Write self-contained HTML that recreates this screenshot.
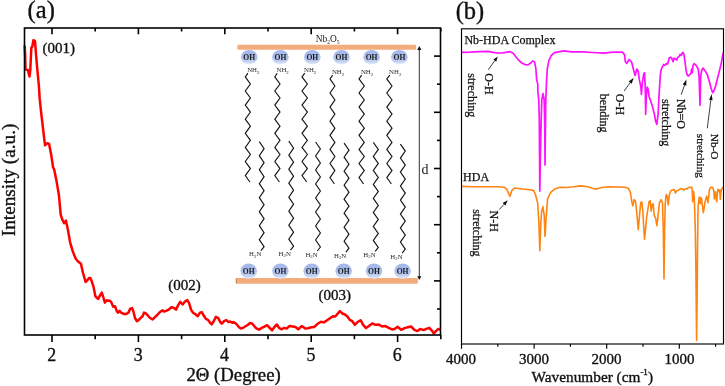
<!DOCTYPE html>
<html><head><meta charset="utf-8"><style>
html,body{margin:0;padding:0;background:#fff;}
svg{display:block;}
svg{will-change:transform;}
.tk{stroke:#111;stroke-width:0.35px;}
.tm{stroke:#111;stroke-width:0.25px;}
</style></head><body>
<svg width="725" height="386" viewBox="0 0 725 386">
<defs>
<linearGradient id="ohg" x1="0" y1="0" x2="0" y2="1">
<stop offset="0" stop-color="#A3B7E9"/>
<stop offset="0.5" stop-color="#ABBEEC"/>
<stop offset="0.8" stop-color="#C3D1F2"/>
<stop offset="1" stop-color="#E6ECFA"/>
</linearGradient>
</defs>
<rect width="725" height="386" fill="#fff"/>
<!-- panel labels -->
<text class="tk" x="27.6" y="18.4" style="font-family:'Liberation Serif',serif;font-size:24.5px" fill="#111">(a)</text>
<text class="tk" x="455.7" y="18.6" style="font-family:'Liberation Serif',serif;font-size:24.5px" fill="#111">(b)</text>
<!-- panel a -->
<g>
<rect x="237.4" y="44.7" width="178.8" height="5.0" rx="1.2" fill="#F2AC7D"/>
<rect x="235.8" y="278.0" width="182" height="5.7" rx="1.2" fill="#F2AC7D"/>
<rect x="235.8" y="278.3" width="1.2" height="5.2" fill="#C98D62"/>
<text x="315.7" y="41.9" style="font-family:'Liberation Serif',serif;font-size:9.4px" fill="#222">Nb<tspan font-size="5.6" dy="1.8">2</tspan><tspan dy="-1.8">O</tspan><tspan font-size="5.6" dy="1.8">5</tspan></text>
<ellipse cx="249.2" cy="57.2" rx="8.3" ry="7.3" fill="url(#ohg)"/>
<text x="249.2" y="60.3" text-anchor="middle" style="font-family:'Liberation Serif',serif;font-size:7.6px;font-weight:bold" fill="#1a1a1a">OH</text>
<ellipse cx="280.4" cy="57.2" rx="8.3" ry="7.3" fill="url(#ohg)"/>
<text x="280.4" y="60.3" text-anchor="middle" style="font-family:'Liberation Serif',serif;font-size:7.6px;font-weight:bold" fill="#1a1a1a">OH</text>
<ellipse cx="312.3" cy="57.2" rx="8.3" ry="7.3" fill="url(#ohg)"/>
<text x="312.3" y="60.3" text-anchor="middle" style="font-family:'Liberation Serif',serif;font-size:7.6px;font-weight:bold" fill="#1a1a1a">OH</text>
<ellipse cx="341.5" cy="57.2" rx="8.3" ry="7.3" fill="url(#ohg)"/>
<text x="341.5" y="60.3" text-anchor="middle" style="font-family:'Liberation Serif',serif;font-size:7.6px;font-weight:bold" fill="#1a1a1a">OH</text>
<ellipse cx="371.6" cy="57.2" rx="8.3" ry="7.3" fill="url(#ohg)"/>
<text x="371.6" y="60.3" text-anchor="middle" style="font-family:'Liberation Serif',serif;font-size:7.6px;font-weight:bold" fill="#1a1a1a">OH</text>
<ellipse cx="399.4" cy="57.2" rx="8.3" ry="7.3" fill="url(#ohg)"/>
<text x="399.4" y="60.3" text-anchor="middle" style="font-family:'Liberation Serif',serif;font-size:7.6px;font-weight:bold" fill="#1a1a1a">OH</text>
<ellipse cx="248.7" cy="271.1" rx="8.3" ry="7.6" fill="url(#ohg)"/>
<text x="248.7" y="274.0" text-anchor="middle" style="font-family:'Liberation Serif',serif;font-size:7.6px;font-weight:bold" fill="#1a1a1a">OH</text>
<ellipse cx="280.4" cy="271.1" rx="8.3" ry="7.6" fill="url(#ohg)"/>
<text x="280.4" y="274.0" text-anchor="middle" style="font-family:'Liberation Serif',serif;font-size:7.6px;font-weight:bold" fill="#1a1a1a">OH</text>
<ellipse cx="311.7" cy="271.1" rx="8.3" ry="7.6" fill="url(#ohg)"/>
<text x="311.7" y="274.0" text-anchor="middle" style="font-family:'Liberation Serif',serif;font-size:7.6px;font-weight:bold" fill="#1a1a1a">OH</text>
<ellipse cx="343.7" cy="271.1" rx="8.3" ry="7.6" fill="url(#ohg)"/>
<text x="343.7" y="274.0" text-anchor="middle" style="font-family:'Liberation Serif',serif;font-size:7.6px;font-weight:bold" fill="#1a1a1a">OH</text>
<ellipse cx="374.0" cy="271.1" rx="8.3" ry="7.6" fill="url(#ohg)"/>
<text x="374.0" y="274.0" text-anchor="middle" style="font-family:'Liberation Serif',serif;font-size:7.6px;font-weight:bold" fill="#1a1a1a">OH</text>
<ellipse cx="402.6" cy="271.1" rx="8.3" ry="7.6" fill="url(#ohg)"/>
<text x="402.6" y="274.0" text-anchor="middle" style="font-family:'Liberation Serif',serif;font-size:7.6px;font-weight:bold" fill="#1a1a1a">OH</text>
<text x="247.2" y="72.1" style="font-family:'Liberation Serif',serif;font-size:6.8px" fill="#2a2a2a">NH<tspan font-size="4.8" dy="1.5">2</tspan></text>
<text x="276.5" y="72.1" style="font-family:'Liberation Serif',serif;font-size:6.8px" fill="#2a2a2a">NH<tspan font-size="4.8" dy="1.5">2</tspan></text>
<text x="304.0" y="72.1" style="font-family:'Liberation Serif',serif;font-size:6.8px" fill="#2a2a2a">NH<tspan font-size="4.8" dy="1.5">2</tspan></text>
<text x="331.9" y="74.1" style="font-family:'Liberation Serif',serif;font-size:6.8px" fill="#2a2a2a">NH<tspan font-size="4.8" dy="1.5">2</tspan></text>
<text x="360.9" y="74.1" style="font-family:'Liberation Serif',serif;font-size:6.8px" fill="#2a2a2a">NH<tspan font-size="4.8" dy="1.5">2</tspan></text>
<text x="389.1" y="74.1" style="font-family:'Liberation Serif',serif;font-size:6.8px" fill="#2a2a2a">NH<tspan font-size="4.8" dy="1.5">2</tspan></text>
<text x="249.1" y="256.2" style="font-family:'Liberation Serif',serif;font-size:6.8px" fill="#2a2a2a">H<tspan font-size="4.8" dy="1.5">2</tspan><tspan dy="-1.5">N</tspan></text>
<text x="278.6" y="255.7" style="font-family:'Liberation Serif',serif;font-size:6.8px" fill="#2a2a2a">H<tspan font-size="4.8" dy="1.5">2</tspan><tspan dy="-1.5">N</tspan></text>
<text x="305.4" y="256.5" style="font-family:'Liberation Serif',serif;font-size:6.8px" fill="#2a2a2a">H<tspan font-size="4.8" dy="1.5">2</tspan><tspan dy="-1.5">N</tspan></text>
<text x="334.0" y="257.7" style="font-family:'Liberation Serif',serif;font-size:6.8px" fill="#2a2a2a">H<tspan font-size="4.8" dy="1.5">2</tspan><tspan dy="-1.5">N</tspan></text>
<text x="363.3" y="256.9" style="font-family:'Liberation Serif',serif;font-size:6.8px" fill="#2a2a2a">H<tspan font-size="4.8" dy="1.5">2</tspan><tspan dy="-1.5">N</tspan></text>
<text x="390.3" y="258.6" style="font-family:'Liberation Serif',serif;font-size:6.8px" fill="#2a2a2a">H<tspan font-size="4.8" dy="1.5">2</tspan><tspan dy="-1.5">N</tspan></text>
<polyline points="247.9,73.2 245.3,76.9 250.4,84.0 245.3,91.0 250.4,98.0 245.3,105.1 250.4,112.1 245.3,119.2 250.4,126.2 245.3,133.3 250.4,140.3 245.3,147.4 250.4,154.5 245.3,161.5 250.4,168.6 245.3,175.6 249.9,182.0" fill="none" stroke="#151515" stroke-width="1.15" stroke-linejoin="miter" stroke-miterlimit="10"/>
<polyline points="277.2,73.2 274.8,76.9 280.0,84.0 274.8,91.0 280.0,98.0 274.8,105.1 280.0,112.1 274.8,119.2 280.0,126.2 274.8,133.3 280.0,140.3 274.8,147.4 280.0,154.5 274.8,161.5 280.0,168.6 274.8,175.6 279.4,182.0" fill="none" stroke="#151515" stroke-width="1.15" stroke-linejoin="miter" stroke-miterlimit="10"/>
<polyline points="304.7,73.2 302.0,76.9 307.4,84.0 302.0,91.0 307.4,98.0 302.0,105.1 307.4,112.1 302.0,119.2 307.4,126.2 302.0,133.3 307.4,140.3 302.0,147.4 307.4,154.5 302.0,161.5 307.4,168.6 302.0,175.6 306.7,182.0" fill="none" stroke="#151515" stroke-width="1.15" stroke-linejoin="miter" stroke-miterlimit="10"/>
<polyline points="332.6,75.2 330.0,78.9 334.9,86.0 330.0,93.0 334.9,100.0 330.0,107.1 334.9,114.1 330.0,121.2 334.9,128.2 330.0,135.3 334.9,142.4 330.0,149.4 334.9,156.5 330.0,163.5 334.9,170.6 330.0,177.6 334.4,184.0" fill="none" stroke="#151515" stroke-width="1.15" stroke-linejoin="miter" stroke-miterlimit="10"/>
<polyline points="361.6,75.2 359.0,78.9 364.3,86.0 359.0,93.0 364.3,100.0 359.0,107.1 364.3,114.1 359.0,121.2 364.3,128.2 359.0,135.3 364.3,142.4 359.0,149.4 364.3,156.5 359.0,163.5 364.3,170.6 359.0,177.6 363.6,184.0" fill="none" stroke="#151515" stroke-width="1.15" stroke-linejoin="miter" stroke-miterlimit="10"/>
<polyline points="389.8,75.2 386.8,78.9 392.0,86.0 386.8,93.0 392.0,100.0 386.8,107.1 392.0,114.1 386.8,121.2 392.0,128.2 386.8,135.3 392.0,142.4 386.8,149.4 392.0,156.5 386.8,163.5 392.0,170.6 386.8,177.6 391.4,184.0" fill="none" stroke="#151515" stroke-width="1.15" stroke-linejoin="miter" stroke-miterlimit="10"/>
<polyline points="259.3,141.7 264.1,148.7 259.3,155.7 264.1,162.7 259.3,169.7 264.1,176.7 259.3,183.7 264.1,190.7 259.3,197.7 264.1,204.7 259.3,211.7 264.1,218.7 259.3,225.7 264.1,232.7 259.3,239.7 264.1,246.7 261.0,250.7" fill="none" stroke="#151515" stroke-width="1.15" stroke-linejoin="miter" stroke-miterlimit="10"/>
<polyline points="288.8,141.2 293.6,148.2 288.8,155.2 293.6,162.2 288.8,169.2 293.6,176.2 288.8,183.2 293.6,190.2 288.8,197.2 293.6,204.2 288.8,211.2 293.6,218.2 288.8,225.2 293.6,232.2 288.8,239.2 293.6,246.2 290.5,250.2" fill="none" stroke="#151515" stroke-width="1.15" stroke-linejoin="miter" stroke-miterlimit="10"/>
<polyline points="315.6,142.0 320.4,149.0 315.6,156.0 320.4,163.0 315.6,170.0 320.4,177.0 315.6,184.0 320.4,191.0 315.6,198.0 320.4,205.0 315.6,212.0 320.4,219.0 315.6,226.0 320.4,233.0 315.6,240.0 320.4,247.0 317.3,251.0" fill="none" stroke="#151515" stroke-width="1.15" stroke-linejoin="miter" stroke-miterlimit="10"/>
<polyline points="344.1,143.2 349.0,150.2 344.1,157.2 349.0,164.2 344.1,171.2 349.0,178.2 344.1,185.2 349.0,192.2 344.1,199.2 349.0,206.2 344.1,213.2 349.0,220.2 344.1,227.2 349.0,234.2 344.1,241.2 349.0,248.2 345.9,252.2" fill="none" stroke="#151515" stroke-width="1.15" stroke-linejoin="miter" stroke-miterlimit="10"/>
<polyline points="373.3,142.4 378.3,149.4 373.3,156.4 378.3,163.4 373.3,170.4 378.3,177.4 373.3,184.4 378.3,191.4 373.3,198.4 378.3,205.4 373.3,212.4 378.3,219.4 373.3,226.4 378.3,233.4 373.3,240.4 378.3,247.4 375.2,251.4" fill="none" stroke="#151515" stroke-width="1.15" stroke-linejoin="miter" stroke-miterlimit="10"/>
<polyline points="400.4,144.1 405.3,151.1 400.4,158.1 405.3,165.1 400.4,172.1 405.3,179.1 400.4,186.1 405.3,193.1 400.4,200.1 405.3,207.1 400.4,214.1 405.3,221.1 400.4,228.1 405.3,235.1 400.4,242.1 405.3,249.1 402.2,253.1" fill="none" stroke="#151515" stroke-width="1.15" stroke-linejoin="miter" stroke-miterlimit="10"/>
<line x1="419.3" y1="49" x2="419.3" y2="277" stroke="#333" stroke-width="1"/>
<path d="M417.2,50 L419.3,46.1 L421.4,50 Z" fill="#111"/>
<path d="M417.2,276.2 L419.3,280 L421.4,276.2 Z" fill="#111"/>
<text x="421.4" y="173.8" style="font-family:'Liberation Serif',serif;font-size:14px" fill="#1a1a1a">d</text>
</g>
<polyline points="24.6,45.5 25.2,55.0 25.5,69.3 27.8,70.0 29.5,76.5 30.3,70.0 31.3,48.0 32.3,46.5 33.4,40.2 35.0,40.8 36.0,54.4 37.5,71.3 38.8,85.0 39.7,98.7 41.2,113.0 42.8,126.6 45.0,145.3 47.0,143.3 49.0,143.7 51.2,154.6 53.0,167.0 54.3,170.1 56.8,182.6 58.9,195.0 60.7,214.6 62.5,220.0 64.1,223.2 65.9,220.6 68.0,230.2 70.0,241.8 72.6,250.9 75.7,258.7 77.8,261.2 80.9,263.8 83.0,272.9 85.6,282.0 87.4,280.2 89.0,278.1 90.5,278.1 92.2,282.7 93.6,287.2 95.4,296.3 98.2,299.0 100.0,295.4 101.8,292.6 103.0,296.3 104.9,302.6 106.7,300.3 108.1,300.8 110.0,300.8 111.4,302.6 113.2,306.8 115.0,306.2 116.8,311.1 118.1,312.6 119.6,310.8 121.2,312.6 123.6,313.9 126.3,314.0 128.4,312.6 130.3,308.6 132.1,308.1 133.5,311.7 135.0,318.0 136.8,321.1 139.0,319.8 140.8,317.7 142.6,316.2 144.0,312.6 145.9,313.5 147.7,315.3 149.8,317.7 152.6,319.5 154.9,317.1 157.3,315.0 159.7,312.2 162.5,310.4 164.3,311.6 166.6,310.7 168.7,309.6 171.3,307.3 173.6,307.7 176.0,309.6 178.3,304.9 180.2,301.8 182.6,304.5 184.8,301.8 187.3,300.0 189.2,303.4 191.0,309.6 193.0,312.7 195.4,314.3 197.7,316.3 200.0,312.7 201.9,312.2 203.9,315.8 205.9,318.9 208.1,320.0 210.1,322.8 211.7,324.3 213.7,321.2 215.9,316.9 218.4,318.4 220.2,322.0 221.8,323.6 224.1,321.2 226.4,320.0 228.3,322.0 230.3,321.6 232.6,322.8 233.4,322.0 236.2,323.8 239.0,327.2 241.0,328.6 243.9,327.3 248.0,324.8 250.0,323.0 252.0,323.4 254.0,325.8 256.0,328.1 259.0,329.7 261.7,327.9 264.5,326.6 267.0,325.2 269.3,327.5 272.1,330.3 274.4,327.0 276.9,324.5 279.0,327.9 281.3,329.3 284.1,327.9 286.6,328.6 289.3,326.1 292.8,326.6 295.5,327.0 298.3,329.3 301.7,326.1 305.2,328.6 307.9,328.3 311.4,327.2 314.1,327.0 317.6,323.8 321.0,321.7 323.8,322.4 326.6,320.6 330.0,318.2 332.9,316.2 335.3,316.5 337.4,314.0 339.9,311.2 342.4,313.5 344.9,314.5 347.4,316.5 349.8,319.8 352.3,321.2 354.8,324.8 357.3,322.3 360.6,320.2 363.1,324.8 366.1,328.1 368.9,326.1 372.2,323.5 375.5,324.8 378.8,324.5 382.1,326.5 385.4,326.1 388.7,327.8 392.0,329.4 394.5,328.9 397.5,326.8 401.2,329.8 404.5,328.1 407.8,327.3 411.1,326.5 414.4,329.8 417.4,331.1 420.2,328.9 423.5,330.1 426.3,328.9 429.3,327.8 431.8,330.6 433.9,333.5 436.3,330.6 438.4,328.9 440.0,330.1" fill="none" stroke="#FF0000" stroke-width="2.5" stroke-linejoin="round"/>
<rect x="24.5" y="28" width="416" height="307" fill="none" stroke="#000" stroke-width="1.6"/>
<g stroke="#000" stroke-width="1.6">
<line x1="52.0" y1="28" x2="52.0" y2="34.3"/>
<line x1="52.0" y1="335" x2="52.0" y2="342.0"/>
<line x1="95.2" y1="28" x2="95.2" y2="31.5"/>
<line x1="95.2" y1="335" x2="95.2" y2="339.2"/>
<line x1="138.4" y1="28" x2="138.4" y2="34.3"/>
<line x1="138.4" y1="335" x2="138.4" y2="342.0"/>
<line x1="181.6" y1="28" x2="181.6" y2="31.5"/>
<line x1="181.6" y1="335" x2="181.6" y2="339.2"/>
<line x1="224.8" y1="28" x2="224.8" y2="34.3"/>
<line x1="224.8" y1="335" x2="224.8" y2="342.0"/>
<line x1="268.0" y1="28" x2="268.0" y2="31.5"/>
<line x1="268.0" y1="335" x2="268.0" y2="339.2"/>
<line x1="311.2" y1="28" x2="311.2" y2="34.3"/>
<line x1="311.2" y1="335" x2="311.2" y2="342.0"/>
<line x1="354.4" y1="28" x2="354.4" y2="31.5"/>
<line x1="354.4" y1="335" x2="354.4" y2="339.2"/>
<line x1="397.6" y1="28" x2="397.6" y2="34.3"/>
<line x1="397.6" y1="335" x2="397.6" y2="342.0"/>
<line x1="440.8" y1="28" x2="440.8" y2="31.5"/>
<line x1="440.8" y1="335" x2="440.8" y2="339.2"/>
<line x1="440.5" y1="56.1" x2="434.0" y2="56.1"/>
<line x1="440.5" y1="84.2" x2="437.0" y2="84.2"/>
<line x1="440.5" y1="112.3" x2="434.0" y2="112.3"/>
<line x1="440.5" y1="140.4" x2="437.0" y2="140.4"/>
<line x1="440.5" y1="168.5" x2="434.0" y2="168.5"/>
<line x1="440.5" y1="196.6" x2="437.0" y2="196.6"/>
<line x1="440.5" y1="224.7" x2="434.0" y2="224.7"/>
<line x1="440.5" y1="252.8" x2="437.0" y2="252.8"/>
<line x1="440.5" y1="280.9" x2="434.0" y2="280.9"/>
<line x1="440.5" y1="309.0" x2="437.0" y2="309.0"/>
</g>
<g class="tk" style="font-family:'Liberation Serif',serif;font-size:19.5px" fill="#111" text-anchor="middle">
<text transform="translate(51.80,361) scale(0.92,1)">2</text><text transform="translate(138.15,361) scale(0.92,1)">3</text><text transform="translate(224.50,361) scale(0.92,1)">4</text><text transform="translate(310.85,361) scale(0.92,1)">5</text><text transform="translate(397.20,361) scale(0.92,1)">6</text>
</g>
<text class="tk" x="233.6" y="380.9" text-anchor="middle" style="font-family:'Liberation Serif',serif;font-size:18.8px" fill="#111">2Θ (Degree)</text>
<text class="tk" transform="translate(14.7,179.9) rotate(-90)" text-anchor="middle" textLength="112.5" lengthAdjust="spacingAndGlyphs" style="font-family:'Liberation Serif',serif;font-size:18.8px" fill="#111">Intensity (a.u.)</text>
<g class="tk" style="font-family:'Liberation Serif',serif;font-size:15px" fill="#111">
<text x="42.6" y="52.6">(001)</text>
<text x="168.2" y="290">(002)</text>
<text x="318.5" y="300.3">(003)</text>
</g>
<!-- panel b -->
<polyline points="462.0,186.4 473.0,186.7 485.9,186.7 498.9,186.7 504.0,187.2 506.6,189.0 508.7,193.7 510.0,196.3 511.8,190.6 514.4,188.0 522.2,189.0 530.0,189.8 533.8,190.6 535.6,195.0 536.9,200.2 537.7,202.7 539.0,224.8 539.8,250.7 540.8,224.8 541.6,211.8 542.9,206.6 544.2,215.7 545.0,236.4 546.0,219.6 547.6,198.9 550.7,192.4 554.6,189.0 560.0,187.2 566.7,187.5 573.7,186.8 580.6,185.9 587.6,186.8 592.3,188.2 596.5,189.1 601.6,187.5 608.6,186.8 617.9,187.0 624.9,187.3 628.3,188.3 630.4,192.4 632.0,202.8 632.9,205.9 634.1,199.7 635.4,200.7 636.6,211.1 638.3,229.8 639.7,213.2 640.7,202.8 641.8,201.8 642.8,211.1 643.9,229.8 644.5,239.1 645.5,229.8 646.6,217.3 647.6,211.1 649.0,201.8 650.3,200.7 651.1,211.1 652.2,204.9 653.2,203.9 654.2,215.3 655.7,218.4 656.9,225.6 658.0,216.3 659.4,202.8 661.1,199.7 662.5,202.8 663.3,230.0 664.0,279.0 664.6,230.0 665.2,205.0 665.9,196.3 666.5,194.5 667.3,196.3 668.2,204.9 668.8,199.9 669.5,193.6 670.4,191.8 671.3,190.4 672.7,190.0 673.6,189.5 674.5,190.0 675.4,193.1 676.3,191.3 678.1,190.4 679.9,189.1 681.3,188.6 682.7,189.2 683.6,190.0 684.9,189.1 686.3,188.6 687.2,188.9 688.1,187.7 689.5,187.3 690.8,187.4 691.7,187.3 692.2,189.1 692.6,201.8 692.9,191.8 693.5,191.3 694.0,194.5 694.5,203.6 695.3,230.0 695.9,270.0 696.6,340.5 697.1,300.0 697.6,240.0 698.1,207.2 699.2,197.2 699.9,197.2 700.3,203.6 700.8,198.1 701.5,198.1 702.2,204.5 702.6,207.2 703.3,212.6 704.0,209.0 704.9,202.7 705.8,199.0 706.7,196.3 707.3,198.1 707.9,202.7 708.5,198.1 709.4,190.0 710.3,187.7 711.7,187.1 713.0,188.2 713.9,191.8 714.4,199.0 714.9,192.7 715.5,191.8 716.2,198.1 716.7,201.8 717.3,193.6 718.0,189.5 718.8,190.0 719.4,191.8 719.8,190.0 720.3,199.5 720.9,191.8 721.6,189.1 722.6,187.7 723.2,187.1" fill="none" stroke="#FF8410" stroke-width="1.6" stroke-linejoin="round"/>
<polyline points="462.0,52.4 470.0,52.2 480.0,51.6 488.0,51.3 493.0,52.3 498.0,53.0 503.0,53.0 507.0,52.2 510.1,51.7 513.2,53.2 515.5,56.3 518.7,60.2 521.8,63.0 524.9,64.6 528.0,64.9 530.3,63.3 532.6,61.0 534.5,61.8 535.8,68.0 536.7,80.0 537.8,84.1 537.8,91.4 538.8,100.0 539.3,120.0 539.6,160.0 539.8,191.0 540.3,160.0 541.2,120.0 541.8,100.0 543.0,93.5 544.2,100.0 544.8,130.0 545.0,165.0 545.4,130.0 545.8,100.0 546.6,80.0 547.4,68.0 549.0,60.2 551.3,55.5 554.4,52.7 560.0,51.7 564.3,50.9 571.3,51.8 583.0,51.8 592.3,52.5 604.0,53.2 613.3,52.2 622.6,52.2 624.5,54.8 625.4,61.8 626.8,63.4 629.1,59.5 630.8,61.1 631.8,62.7 633.6,70.0 635.1,75.4 636.9,69.0 638.1,70.9 639.4,79.9 640.9,87.1 641.4,94.4 642.3,83.5 643.6,74.5 644.5,72.7 645.2,87.1 645.7,114.3 646.3,96.2 647.2,87.1 648.1,89.0 649.0,96.2 650.8,101.6 652.6,107.1 654.4,114.3 655.7,121.5 656.8,124.3 658.1,114.3 659.0,96.2 659.9,81.7 660.4,74.5 661.2,69.5 662.3,67.2 663.7,64.5 665.0,65.4 666.3,63.6 667.7,64.0 669.2,58.1 670.4,57.2 671.7,58.1 673.1,61.8 674.1,58.1 675.3,59.1 676.8,60.0 677.7,57.2 679.0,56.7 680.0,54.5 681.3,55.4 682.2,53.1 683.1,52.3 684.0,54.5 685.0,61.8 686.2,70.9 687.3,75.4 688.6,75.9 689.8,74.5 690.9,73.6 691.7,69.0 692.2,72.7 693.1,65.4 694.0,63.6 695.3,64.5 696.7,66.3 698.2,69.0 699.1,76.3 700.0,105.3 700.7,76.3 701.8,70.0 703.1,68.1 704.4,70.0 705.8,71.8 707.6,75.4 709.4,81.7 711.3,89.0 712.7,92.6 714.0,90.8 715.8,85.4 717.6,78.1 719.4,70.9 721.2,63.6 722.5,56.3 723.2,52.7" fill="none" stroke="#FF10FF" stroke-width="1.7" stroke-linejoin="round"/>
<text class="tm" x="464.4" y="44.3" style="font-family:'Liberation Serif',serif;font-size:12px" fill="#111">Nb-HDA Complex</text>
<text class="tm" x="463.1" y="180.7" style="font-family:'Liberation Serif',serif;font-size:12px" fill="#111">HDA</text>
<text class="tm" transform="translate(485.0,73.3) rotate(90)" text-anchor="start" style="font-family:'Liberation Serif',serif;font-size:12px" fill="#111">O-H</text>
<text class="tm" transform="translate(468.0,73.3) rotate(90)" text-anchor="start" style="font-family:'Liberation Serif',serif;font-size:12px" fill="#111">streching</text>
<line x1="488.1" y1="69.9" x2="494.8" y2="60.6" stroke="#111" stroke-width="0.8"/><path d="M497.8,56.4 L496.2,61.7 L493.3,59.6 Z" fill="#111"/>
<text class="tm" transform="translate(615.5,93.8) rotate(90)" text-anchor="start" style="font-family:'Liberation Serif',serif;font-size:12px" fill="#111">O-H</text>
<text class="tm" transform="translate(600.2,93.8) rotate(90)" text-anchor="start" style="font-family:'Liberation Serif',serif;font-size:12px" fill="#111">bending</text>
<line x1="624.2" y1="91.0" x2="630.2" y2="82.7" stroke="#111" stroke-width="0.8"/><path d="M633.7,77.8 L631.7,83.8 L628.7,81.6 Z" fill="#111"/>
<text class="tm" transform="translate(677.3,98.9) rotate(90)" text-anchor="start" style="font-family:'Liberation Serif',serif;font-size:12px" fill="#111">Nb=O</text>
<text class="tm" transform="translate(662.3,98.9) rotate(90)" text-anchor="start" style="font-family:'Liberation Serif',serif;font-size:12px" fill="#111">stretching</text>
<line x1="681.2" y1="94.7" x2="684.5" y2="85.2" stroke="#111" stroke-width="0.8"/><path d="M686.4,79.5 L686.3,85.8 L682.7,84.6 Z" fill="#111"/>
<text class="tm" transform="translate(711.3,133.8) rotate(90)" text-anchor="start" style="font-family:'Liberation Serif',serif;font-size:11.2px" fill="#111">Nb-O</text>
<text class="tm" transform="translate(696.6,133.8) rotate(90)" text-anchor="start" style="font-family:'Liberation Serif',serif;font-size:11.2px" fill="#111">stretching</text>
<line x1="707.3" y1="128.2" x2="710.8" y2="100.1" stroke="#111" stroke-width="0.8"/><path d="M711.6,94.1 L712.6,100.3 L709.1,99.8 Z" fill="#111"/>
<text class="tm" transform="translate(490.2,210.5) rotate(90)" text-anchor="start" style="font-family:'Liberation Serif',serif;font-size:12px" fill="#111">N-H</text>
<text class="tm" transform="translate(472.8,209.2) rotate(90)" text-anchor="start" style="font-family:'Liberation Serif',serif;font-size:12px" fill="#111">stretching</text>
<line x1="499.3" y1="209.5" x2="504.0" y2="204.4" stroke="#111" stroke-width="0.8"/><path d="M507.7,200.3 L505.4,205.6 L502.6,203.1 Z" fill="#111"/>
<rect x="461.5" y="28.8" width="262" height="315.2" fill="none" stroke="#000" stroke-width="1.15"/>
<g stroke="#000" stroke-width="1.15">
<line x1="461.5" y1="344" x2="461.5" y2="348.8"/>
<line x1="497.8" y1="344" x2="497.8" y2="346.8"/>
<line x1="534.1" y1="344" x2="534.1" y2="348.8"/>
<line x1="570.4" y1="344" x2="570.4" y2="346.8"/>
<line x1="606.7" y1="344" x2="606.7" y2="348.8"/>
<line x1="643.0" y1="344" x2="643.0" y2="346.8"/>
<line x1="679.3" y1="344" x2="679.3" y2="348.8"/>
<line x1="715.6" y1="344" x2="715.6" y2="346.8"/>
</g>
<g class="tk" style="font-family:'Liberation Serif',serif;font-size:15px" fill="#111" text-anchor="middle">
<text x="461" y="364.3">4000</text><text x="534" y="364.3">3000</text><text x="606.5" y="364.3">2000</text><text x="679.5" y="364.3">1000</text>
</g>
<text class="tk" x="531.6" y="381.5" style="font-family:'Liberation Serif',serif;font-size:15.3px" fill="#111">Wavenumber (cm<tspan font-size="9" dy="-6.5">-1</tspan><tspan dy="6.5">)</tspan></text>
</svg>
</body></html>
